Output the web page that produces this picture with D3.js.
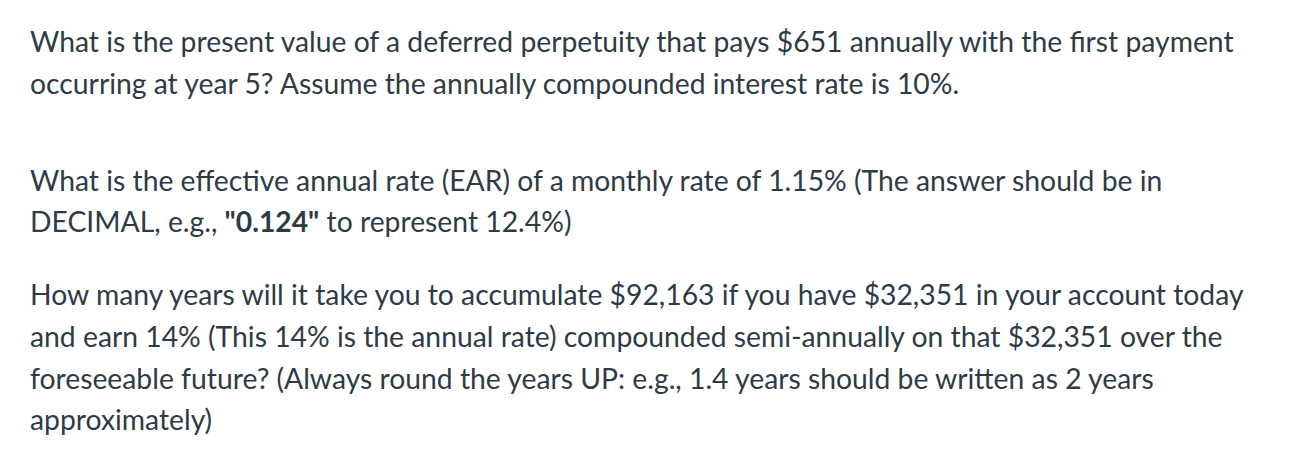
<!DOCTYPE html>
<html><head><meta charset="utf-8">
<script src="https://cdn.jsdelivr.net/npm/d3@7"></script>
<style>html,body{margin:0;background:#fff}</style>
</head><body>
<script>
// each line: array of [text, bold]
const lines = [
  [["What is the present value of a deferred perpetuity that pays $651 annually with the first payment",0]],
  [["occurring at year 5? Assume the annually compounded interest rate is 10%.",0]],
  [["What is the effective annual rate (EAR) of a monthly rate of 1.15% (The answer should be in",0]],
  [["DECIMAL, e.g., ",0],["\"0.124\"",1],[" to represent 12.4%)",0]],
  [["How many years will it take you to accumulate $92,163 if you have $32,351 in your account today",0]],
  [["and earn 14% (This 14% is the annual rate) compounded semi-annually on that $32,351 over the",0]],
  [["foreseeable future? (Always round the years UP: e.g., 1.4 years should be written as 2 years",0]],
  [["approximately)",0]]
];
const baselines = [52, 94, 191, 232, 305, 347, 389, 430];

const svg = d3.select("body").append("svg").attr("width",1300).attr("height",458);
const y = d3.scaleLinear().domain([0,1]).range([0,1]);
svg.selectAll("text.line").data(lines).join("text")
  .attr("class","line")
  .attr("x",30)
  .attr("y",(d,i)=>y(baselines[i]))
  .attr("font-family","Lato, 'Open Sans', sans-serif")
  .attr("font-size",28.3)
  .attr("fill","#2d3b45")
  .selectAll("tspan").data(d=>d).join("tspan")
  .attr("font-weight",d=>d[1]?"bold":"normal")
  .text(d=>d[0]);
</script>
</body></html>
